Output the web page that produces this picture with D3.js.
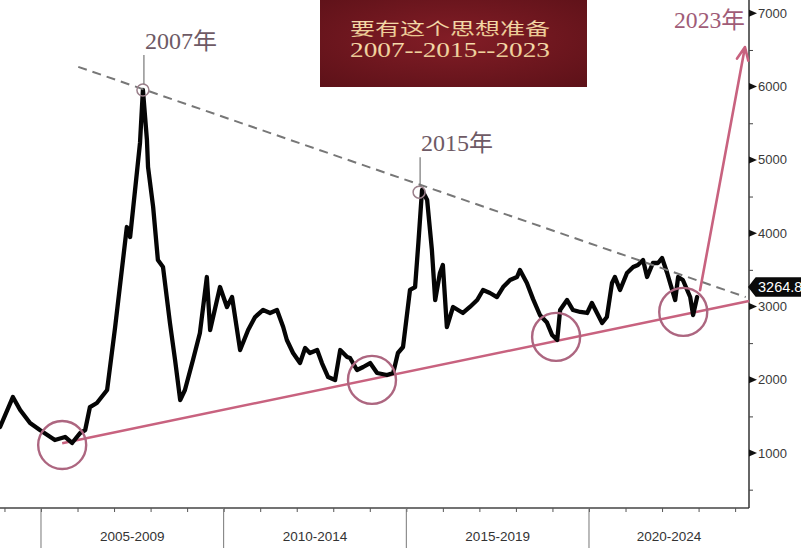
<!DOCTYPE html>
<html><head><meta charset="utf-8">
<script src="https://cdn.jsdelivr.net/npm/d3@7"></script>
<style>body{margin:0;background:#fff}svg{display:block}</style>
</head><body><svg id="c" width="801" height="548"></svg>
<script>
// ---- data (decimal years, index level) ----
const dates = [2003.88,2004.23,2004.43,2004.70,2004.97,2005.38,2005.66,2005.85,2006.07,2006.21,2006.34,2006.53,2006.81,2007.03,2007.35,2007.44,2007.71,2007.79,2007.90,2007.93,2008.07,2008.20,2008.34,2008.53,2008.67,2008.81,2008.94,2009.16,2009.35,2009.54,2009.63,2009.90,2010.09,2010.23,2010.45,2010.67,2010.86,2011.08,2011.27,2011.46,2011.63,2011.73,2011.90,2012.09,2012.23,2012.36,2012.56,2012.69,2012.86,2013.05,2013.19,2013.38,2013.46,2013.65,2013.82,2014.01,2014.20,2014.47,2014.64,2014.77,2014.91,2015.10,2015.24,2015.33,2015.43,2015.57,2015.70,2015.79,2015.92,2016.00,2016.11,2016.28,2016.55,2016.74,2016.94,2017.10,2017.29,2017.48,2017.65,2017.84,2018.03,2018.11,2018.30,2018.47,2018.66,2018.85,2018.99,2019.13,2019.21,2019.40,2019.56,2019.76,2019.95,2020.08,2020.22,2020.36,2020.49,2020.63,2020.71,2020.85,2021.04,2021.21,2021.34,2021.48,2021.59,2021.75,2021.89,2022.00,2022.14,2022.22,2022.36,2022.44,2022.57,2022.77,2022.85,2022.96];
const values = [1355,1764,1587,1410,1314,1178,1219,1137,1273,1314,1628,1683,1860,2720,4084,3948,5231,5954,5271,4903,4357,3634,3538,2774,2269,1723,1860,2269,2638,3402,2679,3265,2993,3129,2406,2679,2856,2952,2911,2952,2720,2542,2365,2228,2433,2365,2406,2228,2037,1996,2406,2310,2297,2133,2174,2228,2092,2065,2092,2365,2447,3225,3265,3866,4589,4453,3770,3088,3457,3566,2720,2993,2911,2993,3088,3225,3184,3129,3265,3361,3402,3497,3320,3100,2880,2780,2610,2542,2952,3088,2952,2925,2911,3047,2911,2774,2856,3320,3402,3225,3457,3538,3566,3634,3402,3593,3593,3661,3457,3320,3088,3402,3361,3129,2883,3129,3197];
const yTickValues = [500,1000,1500,2000,2500,3000,3500,4000,4500,5000,5500,6000,6500,7000];
const yLabelValues = [1000,2000,3000,4000,5000,6000,7000];
const yearTicks = [2004,2005,2006,2007,2008,2009,2010,2011,2012,2013,2014,2015,2016,2017,2018,2019,2020,2021,2022,2023,2024];
const periodStarts = [2005,2010,2015,2020];
const periodLabels = ["2005-2009","2010-2014","2015-2019","2020-2024"];
const lastValueLabel = "3264.8";
const lastValueLevel = 3264.8;
const peakPoints = [[2007.79,5954],[2015.35,4560]];
const peakLabels = ["2007年","2015年"];
const resistanceLine = [[2006.02,6270],[2024.29,3128]];
const supportLine = [[2005.58,1134],[2024.38,3074]];
const supportCircles = [[2005.58,1109],[2014.06,1998],[2019.10,2585],[2022.58,2926]];
const arrowLine = [[2023.04,3222],[2024.27,6540]];
const arrowLabel = "2023年";
const titleLines = ["要有这个思想准备","2007--2015--2023"];

// ---- layout ----
const W = 801, H = 548, axisX = 749, axisY = 508;
const svg = d3.select("#c");
const x = d3.scaleLinear().domain([2003.878, 2024.38]).range([0, axisX]);
const y = d3.scaleLinear().domain([250, 7182]).range([axisY, 0]);

const serif = "'Liberation Serif','DejaVu Serif','Noto Sans CJK SC',serif";
const sans = "'Liberation Sans','Arial',sans-serif";
const narrow = "'Liberation Sans Narrow','Liberation Sans',Arial,sans-serif";

// defs
const defs = svg.append("defs");
const rg = defs.append("radialGradient").attr("id","tb").attr("cx","50%").attr("cy","45%").attr("r","75%");
rg.append("stop").attr("offset","0%").attr("stop-color","#821d26");
rg.append("stop").attr("offset","100%").attr("stop-color","#5c1118");
const tg = defs.append("linearGradient").attr("id","tt").attr("x1","0").attr("y1","0").attr("x2","0").attr("y2","1");
tg.append("stop").attr("offset","0%").attr("stop-color","#fbe3b4");
tg.append("stop").attr("offset","100%").attr("stop-color","#e6c38c");

// ---- axes ----
svg.append("line").attr("x1",0).attr("x2",axisX).attr("y1",axisY).attr("y2",axisY)
  .attr("stroke","#444").attr("stroke-width",1.5);
const xAxis = d3.axisBottom(x).tickValues(yearTicks).tickSize(4).tickFormat("");
const gx = svg.append("g").attr("transform",`translate(0,${axisY})`).call(xAxis);
gx.select(".domain").remove();
gx.selectAll("line").attr("stroke","#555");
svg.selectAll(".sep").data(periodStarts).join("line")
  .attr("x1",d=>x(d)).attr("x2",d=>x(d)).attr("y1",axisY).attr("y2",H)
  .attr("stroke","#777").attr("stroke-width",1);
svg.selectAll(".plab").data(periodLabels).join("text")
  .attr("x",(d,i)=>(x(periodStarts[i]) + Math.min(x(periodStarts[i]+5), axisX))/2)
  .attr("y",541).attr("text-anchor","middle")
  .attr("font-family",narrow).attr("font-size",13.5).attr("fill","#333").text(d=>d);

svg.append("line").attr("x1",axisX).attr("x2",axisX).attr("y1",0).attr("y2",axisY)
  .attr("stroke","#333").attr("stroke-width",1.5);
const yAxis = d3.axisRight(y).tickValues(yTickValues).tickSize(4).tickFormat("");
const gy = svg.append("g").attr("transform",`translate(${axisX},0)`).call(yAxis);
gy.select(".domain").remove();
gy.selectAll("line").attr("stroke","#444");
svg.selectAll(".ymark").data(yLabelValues).join("path")
  .attr("d",d=>`M${axisX},${y(d)-3.5}L${axisX+8},${y(d)}L${axisX},${y(d)+3.5}Z`).attr("fill","#111");
svg.selectAll(".ylab").data(yLabelValues).join("text")
  .attr("x",axisX+9).attr("y",d=>y(d)).attr("dy","0.35em")
  .attr("font-family",sans).attr("font-size",13).attr("fill","#3a3a3a").text(d=>d);

// ---- title box ----
svg.append("rect").attr("x",320).attr("y",0).attr("width",267).attr("height",87).attr("fill","url(#tb)");
svg.append("text").attr("x",350).attr("y",35).attr("textLength",200).attr("lengthAdjust","spacingAndGlyphs")
  .attr("font-family","'Noto Sans CJK SC',sans-serif").attr("font-size",17).attr("fill","url(#tt)").text(titleLines[0]);
svg.append("text").attr("x",350).attr("y",57).attr("textLength",200).attr("lengthAdjust","spacingAndGlyphs")
  .attr("font-family",serif).attr("font-size",21).attr("fill","url(#tt)").text(titleLines[1]);

// ---- support line (pink) ----
svg.append("line")
  .attr("x1",x(supportLine[0][0])).attr("y1",y(supportLine[0][1]))
  .attr("x2",x(supportLine[1][0])).attr("y2",y(supportLine[1][1]))
  .attr("stroke","#c8627f").attr("stroke-width",2.4);

// ---- price line ----
const line = d3.line().x((d,i)=>x(dates[i])).y(d=>y(d)).curve(d3.curveLinear);
svg.append("path").datum(values).attr("d",line).attr("fill","none")
  .attr("stroke","#050505").attr("stroke-width",4.3).attr("stroke-linejoin","round").attr("stroke-linecap","round");

// ---- resistance dashed line ----
svg.append("line")
  .attr("x1",x(resistanceLine[0][0])).attr("y1",y(resistanceLine[0][1]))
  .attr("x2",x(resistanceLine[1][0])).attr("y2",y(resistanceLine[1][1]))
  .attr("stroke","#777").attr("stroke-width",2).attr("stroke-dasharray","9,6");

// ---- support circles ----
svg.selectAll(".sc").data(supportCircles).join("circle")
  .attr("cx",d=>x(d[0])).attr("cy",d=>y(d[1])).attr("r",24)
  .attr("fill","none").attr("stroke","#ad6680").attr("stroke-width",2.4);

// ---- peak markers ----
peakPoints.forEach((p,i)=>{
  const px = x(p[0]), py = y(p[1]);
  svg.append("circle").attr("cx",px).attr("cy",py).attr("r",6)
    .attr("fill","none").attr("stroke","#9a7f8a").attr("stroke-width",1.5);
  svg.append("line").attr("x1",px+1).attr("x2",px+1).attr("y1",py-35).attr("y2",py-6)
    .attr("stroke","#777").attr("stroke-width",1.2);
  svg.append("text").attr("x",px+2).attr("y",py-41).attr("textLength",72).attr("lengthAdjust","spacingAndGlyphs")
    .attr("font-family",serif).attr("font-size",23).attr("fill","#6e5a65").text(peakLabels[i]);
});

// ---- arrow ----
const ax1 = x(arrowLine[0][0]), ay1 = y(arrowLine[0][1]);
const ax2 = x(arrowLine[1][0]), ay2 = y(arrowLine[1][1]);
const ang = Math.atan2(ay2-ay1, ax2-ax1);
const hl = 14, ha = 0.42;
svg.append("path")
  .attr("d",`M${ax1},${ay1}L${ax2},${ay2}M${ax2-hl*Math.cos(ang-ha)},${ay2-hl*Math.sin(ang-ha)}L${ax2},${ay2}L${ax2-hl*Math.cos(ang+ha)},${ay2-hl*Math.sin(ang+ha)}`)
  .attr("fill","none").attr("stroke","#c8627f").attr("stroke-width",2.6).attr("stroke-linejoin","round").attr("stroke-linecap","round");
svg.append("text").attr("x",ax2).attr("y",ay2-19).attr("text-anchor","end")
  .attr("textLength",71).attr("lengthAdjust","spacingAndGlyphs")
  .attr("font-family",serif).attr("font-size",23).attr("fill","#a05c77").text(arrowLabel);

// ---- last value tag ----
const ty = y(lastValueLevel);
svg.append("path")
  .attr("d",`M${axisX},${ty}L${axisX+7},${ty-9}L${W+10},${ty-9}L${W+10},${ty+9}L${axisX+7},${ty+9}Z`)
  .attr("fill","#0a0a0a").attr("stroke","#0a0a0a").attr("stroke-width",1.5).attr("stroke-linejoin","round");
svg.append("text").attr("x",axisX+9).attr("y",ty).attr("dy","0.36em")
  .attr("font-family",sans).attr("font-size",14.5).attr("fill","#fff").text(lastValueLabel);
</script></body></html>
